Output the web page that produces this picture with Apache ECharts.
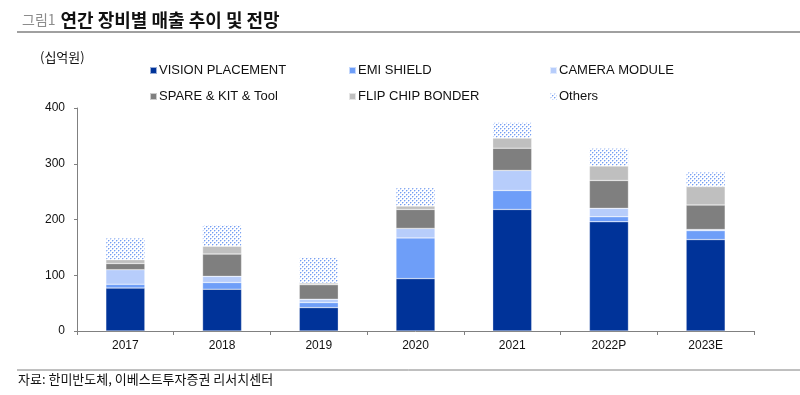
<!DOCTYPE html>
<html><head><meta charset="utf-8">
<script src="https://cdn.jsdelivr.net/npm/echarts@6/dist/echarts.min.js"></script>
<style>html,body{margin:0;padding:0;background:#fff}#c{width:800px;height:395px}</style>
</head><body><div id="c"></div>
<script>
var categories = ['2017','2018','2019','2020','2021','2022P','2023E'];
var visionPlacement = [77, 75, 42, 94, 218, 196, 164];
var emiShield       = [7, 12, 9, 73, 34, 9, 16];
var cameraModule    = [26, 11, 6, 17, 36, 15, 2];
var spareKitTool    = [11, 40, 26, 34, 40, 50, 44];
var flipChipBonder  = [7, 14, 3, 6, 18, 26, 33];
var others          = [39, 38, 46, 33, 28, 32, 26];
var yTicks = [0, 100, 200, 300, 400];

var pc = document.createElement('canvas');
pc.width = 4; pc.height = 4;
var pctx = pc.getContext('2d');
pctx.fillStyle = '#ffffff'; pctx.fillRect(0,0,4,4);
pctx.fillStyle = '#c8d8fa';
pctx.fillRect(1,0,1,1); pctx.fillRect(0,1,1,1); pctx.fillRect(3,2,1,1); pctx.fillRect(2,3,1,1);
pctx.fillStyle = '#739df2';
pctx.fillRect(0,0,1,1); pctx.fillRect(2,2,1,1);
var dotPattern = {image: pc, repeat: 'repeat'};

var names = ['VISION PLACEMENT','EMI SHIELD','CAMERA MODULE','SPARE & KIT & Tool','FLIP CHIP BONDER','Others'];
var datas = [visionPlacement, emiShield, cameraModule, spareKitTool, flipChipBonder, others];
var colors = ['#003399','#6e9ef8','#b7cdfb','#7f7f7f','#bfbfbf', dotPattern];
var legendPos = [[144,59],[343,59],[544,59],[144,85],[343,85],[544,85]];

var chart = echarts.init(document.getElementById('c'));
var series = names.map(function(n,i){
  return {name:n, type:'bar', stack:'s', data:datas[i], barWidth:39,
    itemStyle:{color:colors[i], borderColor:'rgba(255,255,255,0.6)', borderWidth:0.5}};
});
var legends = names.map(function(n,i){
  return {data:[n], left:legendPos[i][0], top:legendPos[i][1], itemWidth:7, itemHeight:7, itemGap:2,
    icon:'rect', textStyle:{fontFamily:'Liberation Sans, Arial', fontSize:13, color:'#111', padding:[0,0,0,-3]}, selectedMode:false};
});
chart.setOption({
  animation:false,
  textStyle:{fontFamily:'Liberation Sans, Arial'},
  title:{text:'{a|그림1} {b|연간 장비별 매출 추이 및 전망}', left:17, top:6,
    textStyle:{rich:{a:{fontSize:14,fontWeight:'normal',color:'#8c8c8c',fontFamily:'Noto Sans CJK KR'},
      b:{fontSize:18,fontWeight:'bold',color:'#111',fontFamily:'Noto Sans CJK KR'}}}},
  legend: legends,
  grid:{left:77, right:46, top:108, bottom:64},
  xAxis:{type:'category', data:categories,
    axisLine:{lineStyle:{color:'#808080'}},
    axisTick:{show:true, interval:0, length:4, lineStyle:{color:'#808080'}},
    axisLabel:{color:'#111', fontSize:12, margin:9}},
  yAxis:{type:'value', min:yTicks[0], max:yTicks[yTicks.length-1], interval:100,
    axisLine:{show:true, lineStyle:{color:'#808080'}},
    axisTick:{show:true, length:3, lineStyle:{color:'#808080'}},
    splitLine:{show:false},
    axisLabel:{color:'#111', fontSize:12, margin:12}},
  graphic:[
    {type:'line', shape:{x1:17,y1:32,x2:800,y2:32}, style:{stroke:'#a0a0a0', lineWidth:2}},
    {type:'line', shape:{x1:17,y1:370,x2:800,y2:370}, style:{stroke:'#808080', lineWidth:1}},
    {type:'text', left:40, top:51, style:{text:'(십억원)', fontSize:13, fill:'#111', fontFamily:'Noto Sans CJK KR'}},
    {type:'text', left:18, top:373, style:{text:'자료: 한미반도체, 이베스트투자증권 리서치센터', fontSize:13, fill:'#111', fontFamily:'Noto Sans CJK KR'}}
  ],
  series: series
});
</script></body></html>
